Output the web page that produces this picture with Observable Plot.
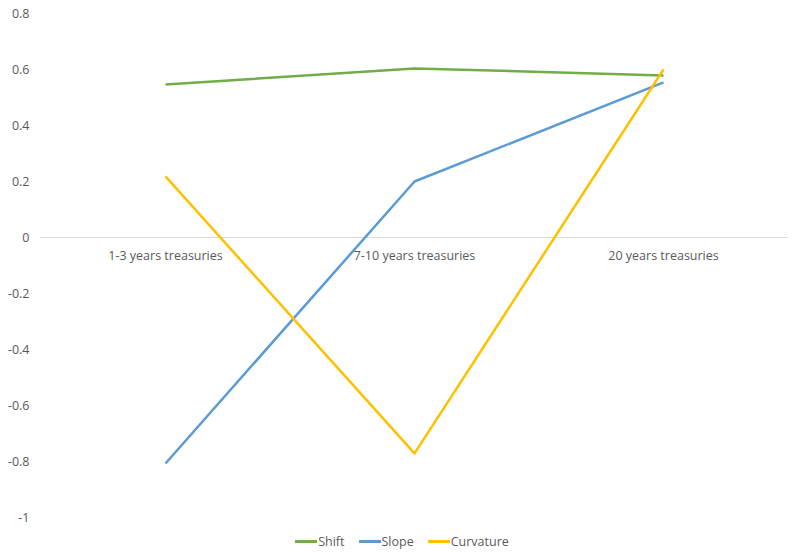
<!DOCTYPE html>
<html>
<head>
<meta charset="utf-8">
<script src="https://cdn.jsdelivr.net/npm/d3@7"></script>
<script src="https://cdn.jsdelivr.net/npm/@observablehq/plot@0.6"></script>
<style>
  body { margin: 0; background: #fff; font-family: "Open Sans", "Noto Sans", sans-serif; }
  #legend { display: flex; justify-content: center; gap: 14px; font-size: 12.5px; color: #595959; margin-top: 3px; padding-left: 4px; }
  #legend .item { display: flex; align-items: center; }
  #legend .sw { width: 22px; height: 3px; margin-right: 1px; }
</style>
</head>
<body>
<div id="chart"></div>
<div id="legend"></div>
<script>
const categories = ["1-3 years treasuries", "7-10 years treasuries", "20 years treasuries"];
const seriesNames = ["Shift", "Slope", "Curvature"];
const shift = [0.546, 0.604, 0.579];
const slope = [-0.807, 0.200, 0.554];
const curvature = [0.218, -0.771, 0.600];
const colors = ["#70AD47", "#5B9BD5", "#FFC000"];
const yTicks = [-1, -0.8, -0.6, -0.4, -0.2, 0, 0.2, 0.4, 0.6, 0.8];
const yTickLabels = ["-1", "-0.8", "-0.6", "-0.4", "-0.2", "0", "0.2", "0.4", "0.6", "0.8"];

const seriesValues = [shift, slope, curvature];
const data = [];
seriesNames.forEach((s, i) => categories.forEach((c, j) => data.push({series: s, category: c, value: seriesValues[i][j]})));

const chart = Plot.plot({
  width: 800,
  height: 530,
  marginTop: 13,
  marginBottom: 13,
  marginLeft: 40,
  marginRight: 12,
  style: { fontFamily: "'Open Sans', 'Noto Sans', sans-serif", fontSize: "12px", color: "#595959" },
  x: { type: "point", domain: categories, padding: 0.5, axis: null },
  y: { domain: [-1, 0.8] },
  color: { domain: seriesNames, range: colors },
  marks: [
    Plot.ruleY([0], { stroke: "#d9d9d9", strokeWidth: 1 }),
    Plot.axisY({ ticks: yTicks, tickSize: 0, tickPadding: 11, tickFormat: d => yTickLabels[yTicks.indexOf(d)], fill: "#595959", fontSize: 12.5, label: null }),
    Plot.text(categories, { x: d => d, y: () => 0, dy: 18, fill: "#595959", fontSize: 12.5 }),
    Plot.line(data, { x: "category", y: "value", z: "series", stroke: "series", strokeWidth: 2.5, strokeLinecap: "butt" })
  ]
});
document.getElementById("chart").appendChild(chart);

const legend = document.getElementById("legend");
seriesNames.forEach((s, i) => {
  const item = document.createElement("div");
  item.className = "item";
  const sw = document.createElement("span");
  sw.className = "sw";
  sw.style.background = colors[i];
  const lab = document.createElement("span");
  lab.textContent = s;
  item.appendChild(sw);
  item.appendChild(lab);
  legend.appendChild(item);
});
</script>
</body>
</html>
